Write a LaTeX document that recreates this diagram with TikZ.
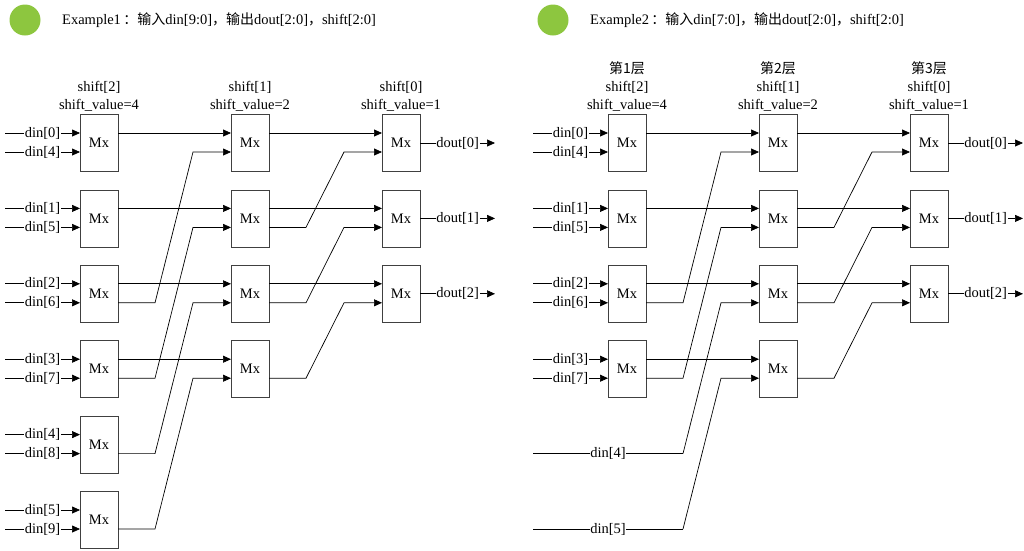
\documentclass[tikz,border=0pt]{standalone}
\usepackage{fontspec}
\setmainfont{Liberation Serif}
\newfontfamily\cjk{Noto Sans CJK SC}
\usetikzlibrary{arrows.meta}
\definecolor{dotgreen}{RGB}{141,198,63}
\tikzset{
  mx/.style={draw=black!75, line width=0.8pt, minimum width=38pt, minimum height=57pt, inner sep=0pt, font=\fontsize{14.5}{16}\selectfont},
  wire/.style={line width=0.7pt},
  arr/.style={wire, -{Triangle[length=8pt,width=7pt]}},
  lbl/.style={fill=white, inner sep=0.5pt, font=\fontsize{14.5}{16}\selectfont},
  hdr/.style={font=\fontsize{14.5}{16}\selectfont, inner sep=0pt},
}
\newcommand\zh[1]{{\cjk\fontsize{14}{16}\selectfont #1}}
\begin{document}
\begin{tikzpicture}[x=1pt,y=-1pt]
\useasboundingbox (0,0) rectangle (1024,550);

% titles
\node[circle, fill=dotgreen, minimum size=31pt, inner sep=0pt] (dotA) at (25,20) {};
\node[hdr, anchor=west] (titleA) at (62,20) {Example1\,\zh{：输入}din[9:0]\zh{，输出}dout[2:0]\zh{，}shift[2:0]};
\node[circle, fill=dotgreen, minimum size=31pt, inner sep=0pt] (dotB) at (553,20) {};
\node[hdr, anchor=west] (titleB) at (590,20) {Example2\,\zh{：输入}din[7:0]\zh{，输出}dout[2:0]\zh{，}shift[2:0]};

% layer labels (right only)
\node[hdr] (layB1) at (627,68) {\zh{第1层}};
\node[hdr] (layB2) at (778,68) {\zh{第2层}};
\node[hdr] (layB3) at (929,68) {\zh{第3层}};

\foreach \p/\ox/\nr in {a/0/5, b/528/3} {
\begin{scope}[xshift=\ox pt]
  \node[hdr] (\p h1) at (99,87) {shift[2]};
  \node[hdr] (\p v1) at (99,105) {shift\_value=4};
  \node[hdr] (\p h2) at (250,87) {shift[1]};
  \node[hdr] (\p v2) at (250,105) {shift\_value=2};
  \node[hdr] (\p h3) at (401,87) {shift[0]};
  \node[hdr] (\p v3) at (401,105) {shift\_value=1};

  % stage 1
  \foreach \r in {0,...,\nr} {
    \pgfmathsetmacro\yc{143+75.4*\r}
    \pgfmathtruncatemacro\rb{\r+4}
    \node[mx] (\p1\r) at (99,\yc) {Mx};
    \coordinate (\p1\r it) at (80,\yc-10);
    \coordinate (\p1\r ib) at (80,\yc+9);
    \coordinate (\p1\r ot) at (118,\yc-10);
    \coordinate (\p1\r ob) at (118,\yc+9);
    \coordinate (\p s\r t) at (5,\yc-10);
    \coordinate (\p s\r b) at (5,\yc+9);
    \draw[arr] (\p s\r t) -- node[lbl]{din[\r]} (\p1\r it);
    \draw[arr] (\p s\r b) -- node[lbl]{din[\rb]} (\p1\r ib);
  }
  % stage 2
  \foreach \r in {0,...,3} {
    \pgfmathsetmacro\yc{143+75.4*\r}
    \node[mx] (\p2\r) at (250,\yc) {Mx};
    \coordinate (\p2\r it) at (231,\yc-10);
    \coordinate (\p2\r ib) at (231,\yc+9);
    \coordinate (\p2\r ot) at (269,\yc-10);
    \coordinate (\p2\r ob) at (269,\yc+9);
    \draw[arr] (\p1\r ot) -- (\p2\r it);
  }
  % stage 3
  \foreach \r in {0,...,2} {
    \pgfmathsetmacro\yc{143+75.4*\r}
    \node[mx] (\p3\r) at (401,\yc) {Mx};
    \coordinate (\p3\r it) at (382,\yc-10);
    \coordinate (\p3\r ib) at (382,\yc+9);
    \coordinate (\p o\r) at (495,\yc);
    \draw[arr] (\p2\r ot) -- (\p3\r it);
    \draw[arr] (\p3\r.east) -- node[lbl]{dout[\r]} (\p o\r);
  }
\end{scope}
}

% shift-by-4 crossings
\foreach \r in {0,...,3} {
  \pgfmathtruncatemacro\rs{\r+2}
  \pgfmathsetmacro\yb{152+75.4*\r}
  \draw[arr] (a1\rs ob) -- ++(37,0) -- (193,\yb) -- (a2\r ib);
}
\foreach \r in {0,1} {
  \pgfmathtruncatemacro\rs{\r+2}
  \pgfmathsetmacro\yb{152+75.4*\r}
  \draw[arr] (b1\rs ob) -- ++(37,0) -- (721,\yb) -- (b2\r ib);
}
% right: direct din[4], din[5]
\foreach \r/\d in {2/4, 3/5} {
  \pgfmathsetmacro\yb{152+75.4*\r}
  \pgfmathsetmacro\ys{152+75.4*(\r+2)}
  \coordinate (bd\d) at (533,\ys);
  \coordinate (bk\d) at (683,\ys);
  \draw[wire] (bd\d) -- node[lbl]{din[\d]} (bk\d);
  \draw[arr] (bk\d) -- (721,\yb) -- (b2\r ib);
}
% shift-by-2 crossings
\foreach \p/\ox in {a/0, b/528} {
  \foreach \r in {0,...,2} {
    \pgfmathtruncatemacro\rs{\r+1}
    \pgfmathsetmacro\yb{152+75.4*\r}
    \draw[arr] (\p2\rs ob) -- ++(37,0) -- (\ox+344,\yb) -- (\p3\r ib);
  }
}
\end{tikzpicture}
\end{document}
